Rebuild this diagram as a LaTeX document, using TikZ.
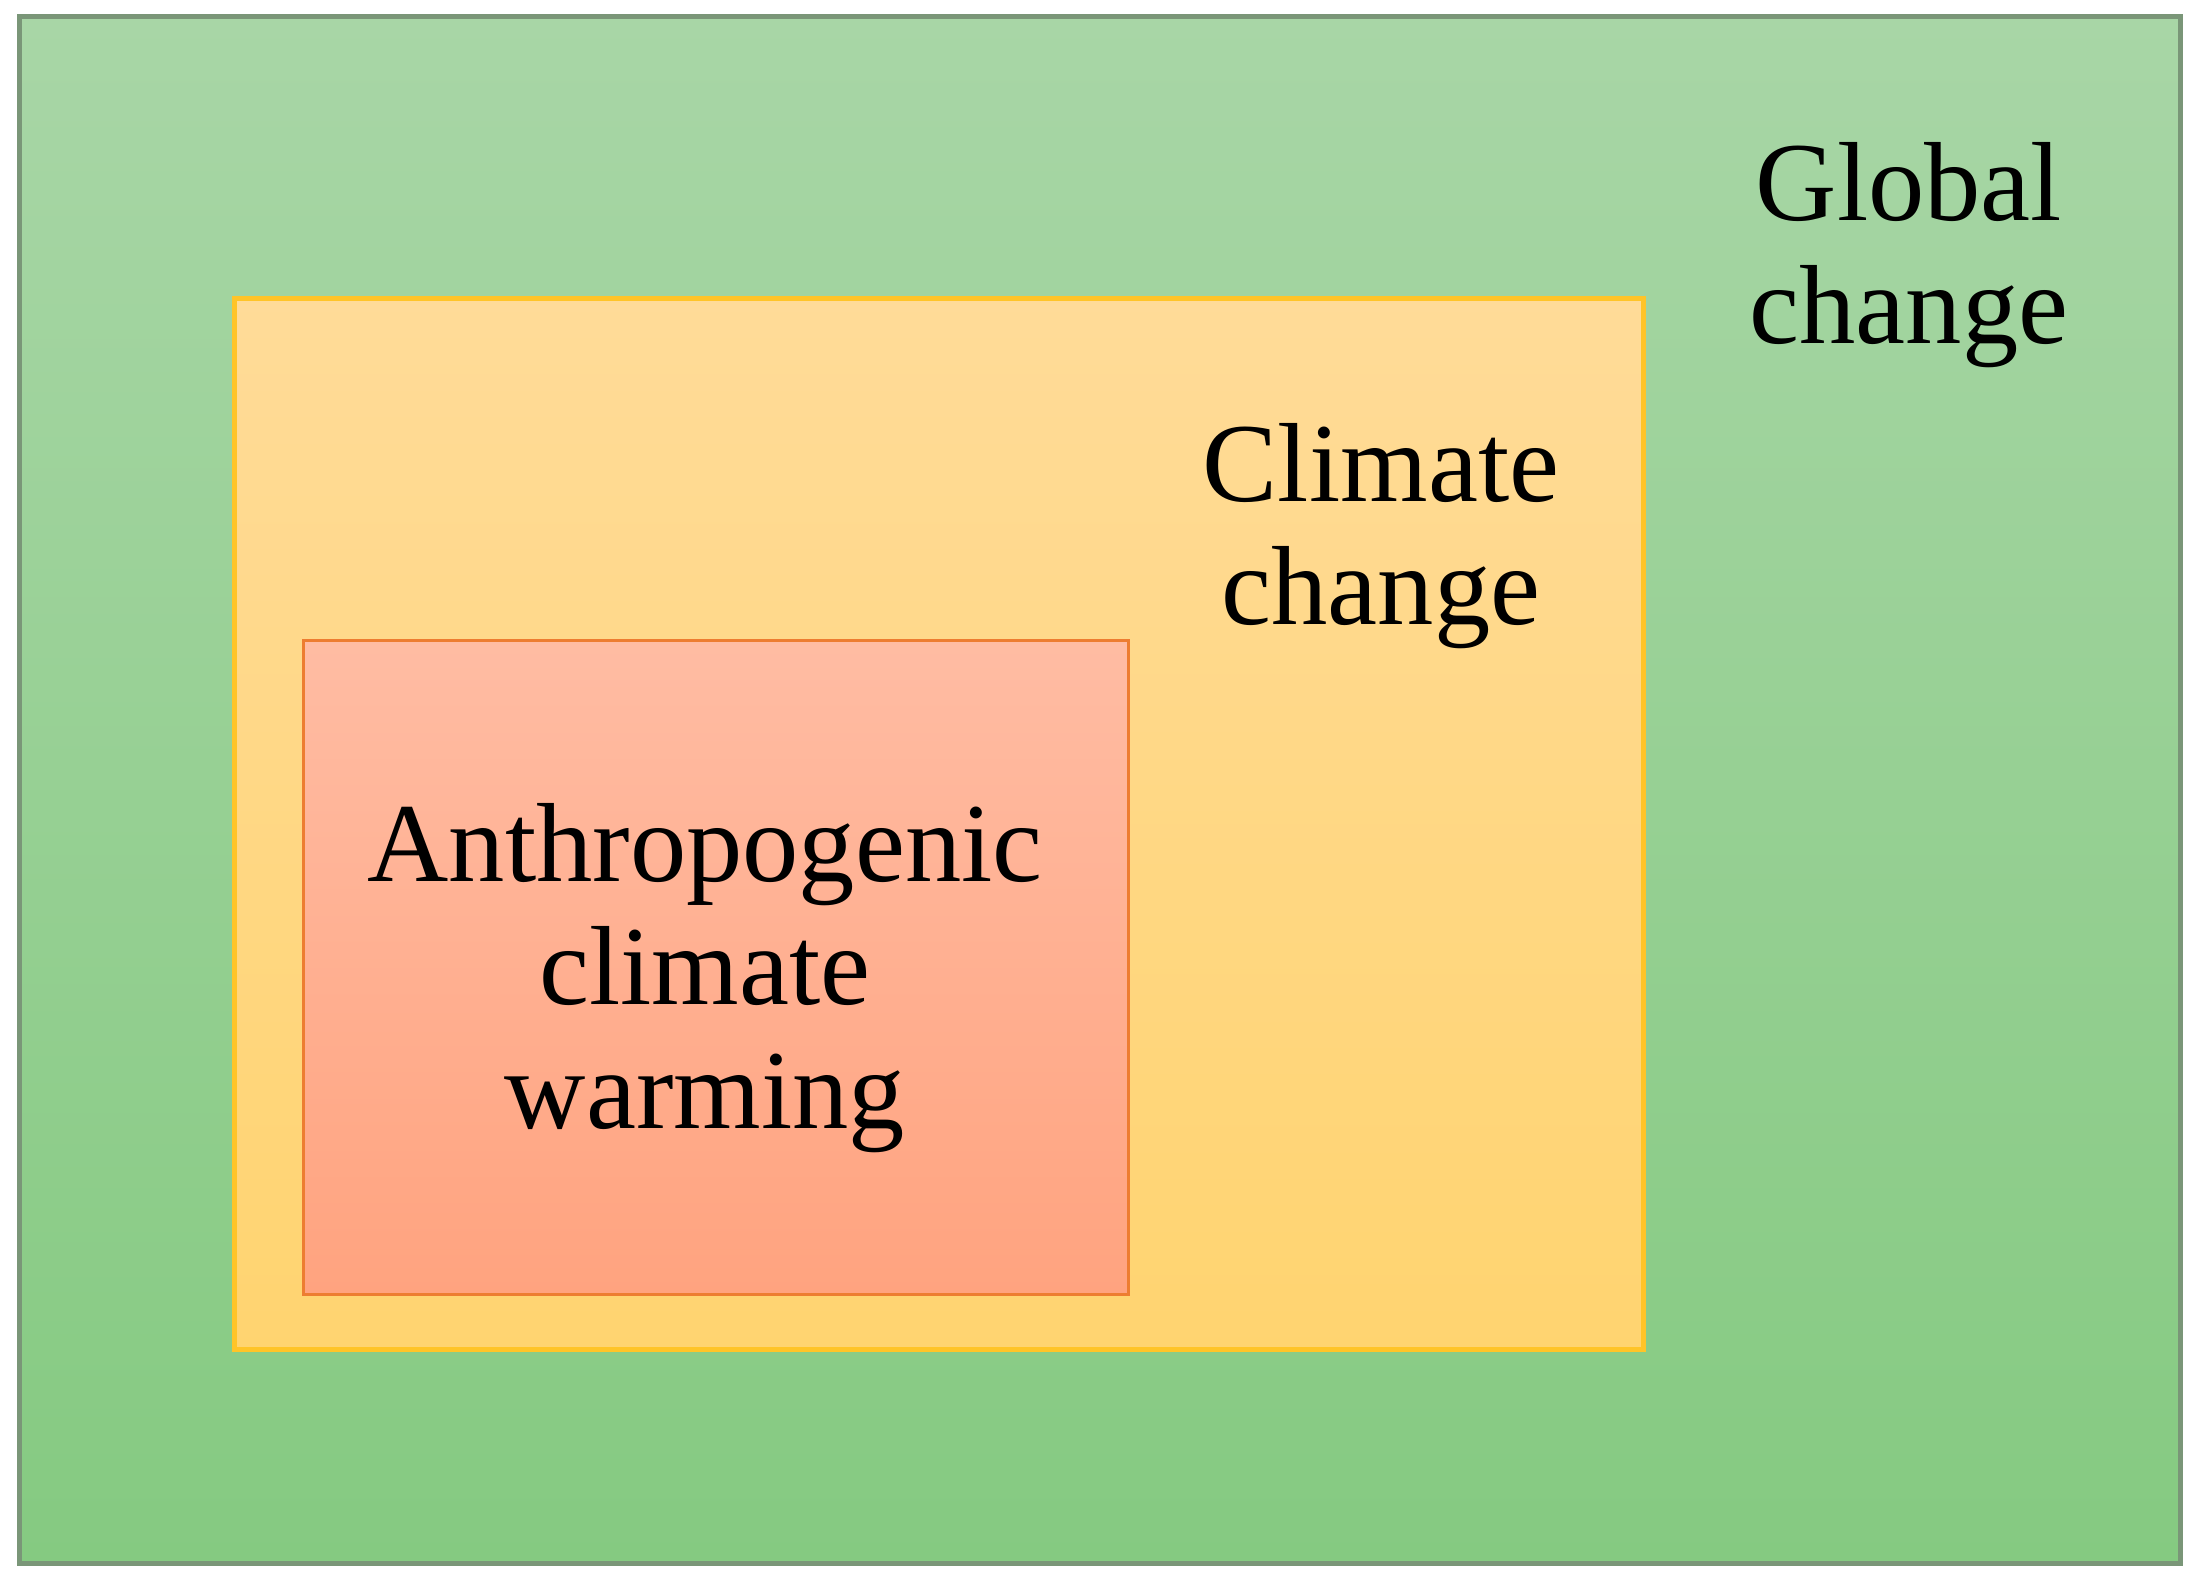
\documentclass[tikz,border=0pt]{standalone}
\usepackage{fontspec}
\setmainfont{Liberation Serif}
\definecolor{gtop}{RGB}{168,214,166}
\definecolor{gbot}{RGB}{133,202,129}
\definecolor{gline}{RGB}{122,150,120}
\definecolor{ytop}{RGB}{255,219,152}
\definecolor{ybot}{RGB}{255,212,112}
\definecolor{yline}{RGB}{255,196,40}
\definecolor{rtop}{RGB}{255,188,163}
\definecolor{rbot}{RGB}{255,163,127}
\definecolor{rline}{RGB}{237,125,49}
\begin{document}
\begin{tikzpicture}[x=0.01cm,y=-0.01cm,
  box/.style={rectangle,inner sep=0pt,outer sep=0pt},
  lbl/.style={align=center,inner sep=0pt,text=black,font=\fontsize{32}{35.2}\selectfont}]
\useasboundingbox (0,0) rectangle (2198,1587);
\fill[white] (0,0) rectangle (2198,1587);
\node[box,top color=gtop,bottom color=gbot,draw=gline,line width=1.5pt,
  minimum width=21.60cm,minimum height=15.46cm] (global) at (1100,790) {};
\node[box,top color=ytop,bottom color=ybot,draw=yline,line width=1.5pt,
  minimum width=14.08cm,minimum height=10.50cm] (climate) at (939,824) {};
\node[box,top color=rtop,bottom color=rbot,draw=rline,line width=0.8pt,
  minimum width=8.24cm,minimum height=6.53cm] (anthro) at (716,967.5) {};
\node[lbl] (tglobal) at (1909,255) {Global\\change};
\node[lbl] (tclimate) at (1381,536) {Climate\\change};
\node[lbl] (tanthro) at (705,978) {Anthropogenic\\climate\\warming};
\end{tikzpicture}
\end{document}
